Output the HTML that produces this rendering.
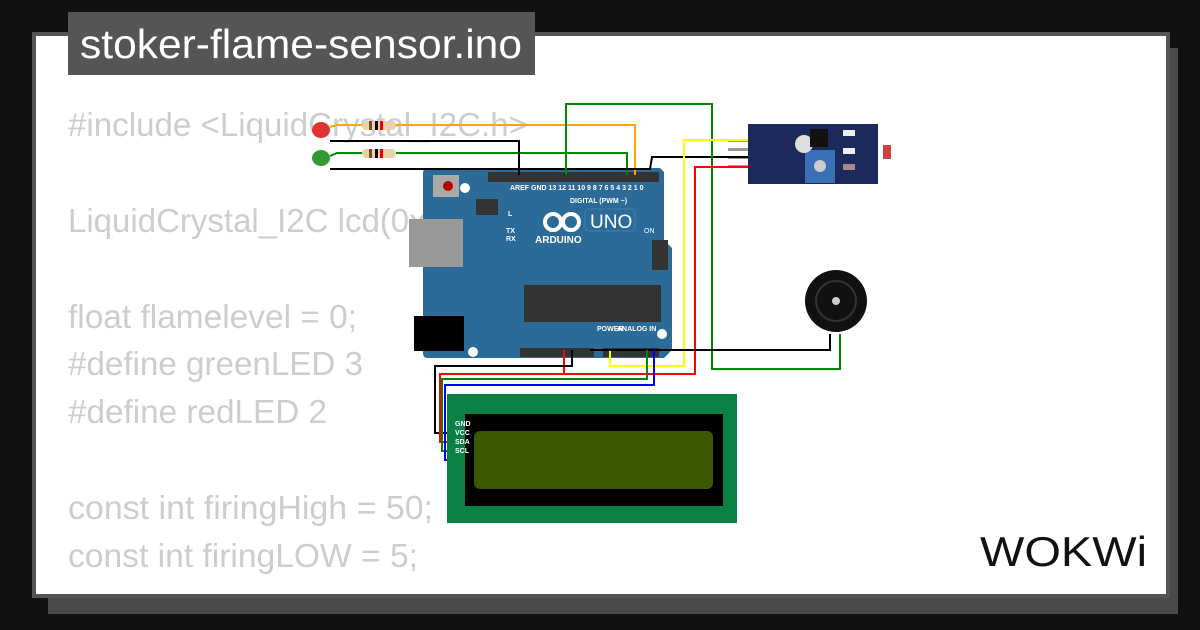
<!DOCTYPE html>
<html><head><meta charset="utf-8"><style>
html,body{margin:0;padding:0;background:#111;}
svg{display:block}
.code{font-family:"Liberation Sans",sans-serif;font-size:33px;fill:#cdcdcd;}
.pin{font-family:"Liberation Sans",sans-serif;font-size:7px;fill:#fff;font-weight:bold}
</style></head><body>
<svg width="1200" height="630" viewBox="0 0 1200 630" xmlns="http://www.w3.org/2000/svg">
<rect width="1200" height="630" fill="#111"/>
<rect x="48" y="48" width="1130" height="566" fill="#4a4a4a"/>
<rect x="32" y="32" width="1138" height="566" fill="#555"/>
<rect x="36" y="36" width="1130" height="558" fill="#fff"/>
<rect x="68" y="12" width="467" height="63" fill="#555"/>
<text x="80" y="58" font-family="Liberation Sans,sans-serif" font-size="41" fill="#fff" textLength="442" lengthAdjust="spacingAndGlyphs">stoker-flame-sensor.ino</text>
<g class="code">
<text x="68" y="136" textLength="460" lengthAdjust="spacingAndGlyphs">#include &lt;LiquidCrystal_I2C.h&gt;</text>
<text x="68" y="232">LiquidCrystal_I2C lcd(0x27,16,2);</text>
<text x="68" y="328" textLength="289" lengthAdjust="spacingAndGlyphs">float flamelevel = 0;</text>
<text x="68" y="375" textLength="295" lengthAdjust="spacingAndGlyphs">#define greenLED 3</text>
<text x="68" y="423" textLength="259" lengthAdjust="spacingAndGlyphs">#define redLED 2</text>
<text x="68" y="519" textLength="365" lengthAdjust="spacingAndGlyphs">const int firingHigh = 50;</text>
<text x="68" y="567" textLength="350" lengthAdjust="spacingAndGlyphs">const int firingLOW = 5;</text>
</g>
<!-- arduino board -->
<path d="M428 168 H660 L664 172 V240 L672 248 V350 L664 358 H428 Q423 358 423 353 V173 Q423 168 428 168Z" fill="#2c6b98"/>
<rect x="488" y="172" width="108" height="10" fill="#333"/>
<rect x="583" y="172" width="76" height="10" fill="#333"/>
<rect x="520" y="348" width="74" height="9" fill="#333"/>
<rect x="603" y="348" width="56" height="9" fill="#333"/>
<rect x="433" y="175" width="26" height="22" fill="#aaa"/>
<circle cx="448" cy="186" r="5" fill="#b00"/>
<circle cx="465" cy="188" r="5" fill="#fff"/>
<rect x="476" y="199" width="22" height="16" fill="#333"/>
<rect x="409" y="219" width="54" height="48" fill="#999"/>
<rect x="414" y="316" width="50" height="35" fill="#000"/>
<circle cx="473" cy="352" r="5" fill="#fff"/>
<circle cx="662" cy="334" r="5" fill="#fff"/>
<circle cx="662" cy="253" r="5" fill="#fff"/>
<rect x="652" y="240" width="16" height="30" fill="#333"/>
<rect x="524" y="285" width="137" height="37" fill="#333"/>
<circle cx="553" cy="222" r="8" fill="none" stroke="#fff" stroke-width="4"/>
<circle cx="571" cy="222" r="8" fill="none" stroke="#fff" stroke-width="4"/>
<rect x="585" y="209" width="50" height="22" rx="4" fill="none" stroke="#3d7fb0"/>
<text x="590" y="228" font-family="Liberation Sans,sans-serif" font-size="19" fill="#fff">UNO</text>
<text x="535" y="243" font-family="Liberation Sans,sans-serif" font-size="10" font-weight="bold" fill="#fff">ARDUINO</text>
<text x="570" y="203" class="pin">DIGITAL (PWM ~)</text>
<text x="510" y="190" class="pin" font-weight="normal">AREF GND 13 12 11 10 9 8  7 6 5 4 3 2 1 0</text>
<text x="597" y="331" class="pin">POWER</text>
<text x="617" y="331" class="pin">ANALOG IN</text>
<text x="644" y="233" font-family="Liberation Sans,sans-serif" font-size="7" fill="#fff">ON</text>
<text x="508" y="216" class="pin" font-weight="normal">L</text>
<text x="506" y="233" class="pin" font-weight="normal">TX</text>
<text x="506" y="241" class="pin" font-weight="normal">RX</text>
<!-- sensor module -->
<rect x="748" y="124" width="130" height="60" fill="#1b2a5a"/>
<rect x="805" y="150" width="30" height="33" fill="#3a6fb5"/>
<circle cx="820" cy="166" r="6" fill="#ccc"/>
<circle cx="804" cy="144" r="9" fill="#ddd"/>
<rect x="810" y="129" width="18" height="18" fill="#111"/>
<rect x="728" y="139" width="20" height="3" fill="#999"/><rect x="728" y="148" width="20" height="3" fill="#999"/><rect x="728" y="156" width="20" height="3" fill="#999"/><rect x="728" y="165" width="20" height="3" fill="#999"/>
<rect x="843" y="130" width="12" height="6" fill="#eee"/><rect x="843" y="148" width="12" height="6" fill="#eee"/><rect x="843" y="164" width="12" height="6" fill="#a88"/>
<rect x="883" y="145" width="8" height="14" fill="#c44"/>
<!-- buzzer -->
<circle cx="836" cy="301" r="31" fill="#111"/>
<circle cx="836" cy="301" r="20" fill="none" stroke="#333" stroke-width="2"/>
<circle cx="836" cy="301" r="4" fill="#ccc"/>
<!-- LEDs & resistors -->
<ellipse cx="321" cy="130" rx="9" ry="8" fill="#d33"/>
<ellipse cx="321" cy="158" rx="9" ry="8" fill="#393"/>
<rect x="362" y="121" width="34" height="9" rx="4" fill="#e8d2a8"/>
<rect x="362" y="149" width="34" height="9" rx="4" fill="#e8d2a8"/>
<rect x="369" y="121" width="3" height="9" fill="#7a4a20"/><rect x="375" y="121" width="3" height="9" fill="#000"/><rect x="380" y="121" width="3" height="9" fill="#e00"/>
<rect x="369" y="149" width="3" height="9" fill="#7a4a20"/><rect x="375" y="149" width="3" height="9" fill="#000"/><rect x="380" y="149" width="3" height="9" fill="#e00"/>
<!-- wires -->
<g fill="none" stroke-width="2">
<path d="M396 125 H635 V175" stroke="#f5a700"/>
<path d="M330 127 L337 125 H362" stroke="#f5a700"/>
<path d="M396 153 H627 V175" stroke="#080"/>
<path d="M330 156 L337 153 H362" stroke="#080"/>
<path d="M330 141 H519 V175" stroke="#000"/>
<path d="M330 169 H519" stroke="#000"/>
<path d="M519 169 H650 L652 157 H748" stroke="#000"/>
<path d="M566 175 V104 H712 V369 H840 V334" stroke="#080"/>
<path d="M748 140 H684 V366 H610 V350" stroke="#ff0"/>
<path d="M748 167 H695 V374 H564 V350" stroke="#f00"/>
<path d="M590 350 H830 V334" stroke="#000"/>
<path d="M572 350 V366 H435 V433 H452" stroke="#000"/>
<path d="M564 374 H440 V442 H452" stroke="#f00"/>
<path d="M647 350 V379 H442 V451 H452" stroke="#080"/>
<path d="M654 350 V385 H445 V460 H452" stroke="#00f"/>
</g>
<!-- LCD -->
<rect x="447" y="394" width="290" height="129" fill="#0b8045"/>
<rect x="465" y="414" width="258" height="92" fill="#000"/>
<rect x="474" y="431" width="239" height="58" rx="6" fill="#3b5800"/>
<text x="455" y="426" class="pin">GND</text>
<text x="455" y="435" class="pin">VCC</text>
<text x="455" y="444" class="pin">SDA</text>
<text x="455" y="453" class="pin">SCL</text>
<text x="980" y="566" font-family="Liberation Sans,sans-serif" font-size="42" fill="#111" textLength="167" lengthAdjust="spacingAndGlyphs">WOKWi</text>
</svg>
</body></html>
